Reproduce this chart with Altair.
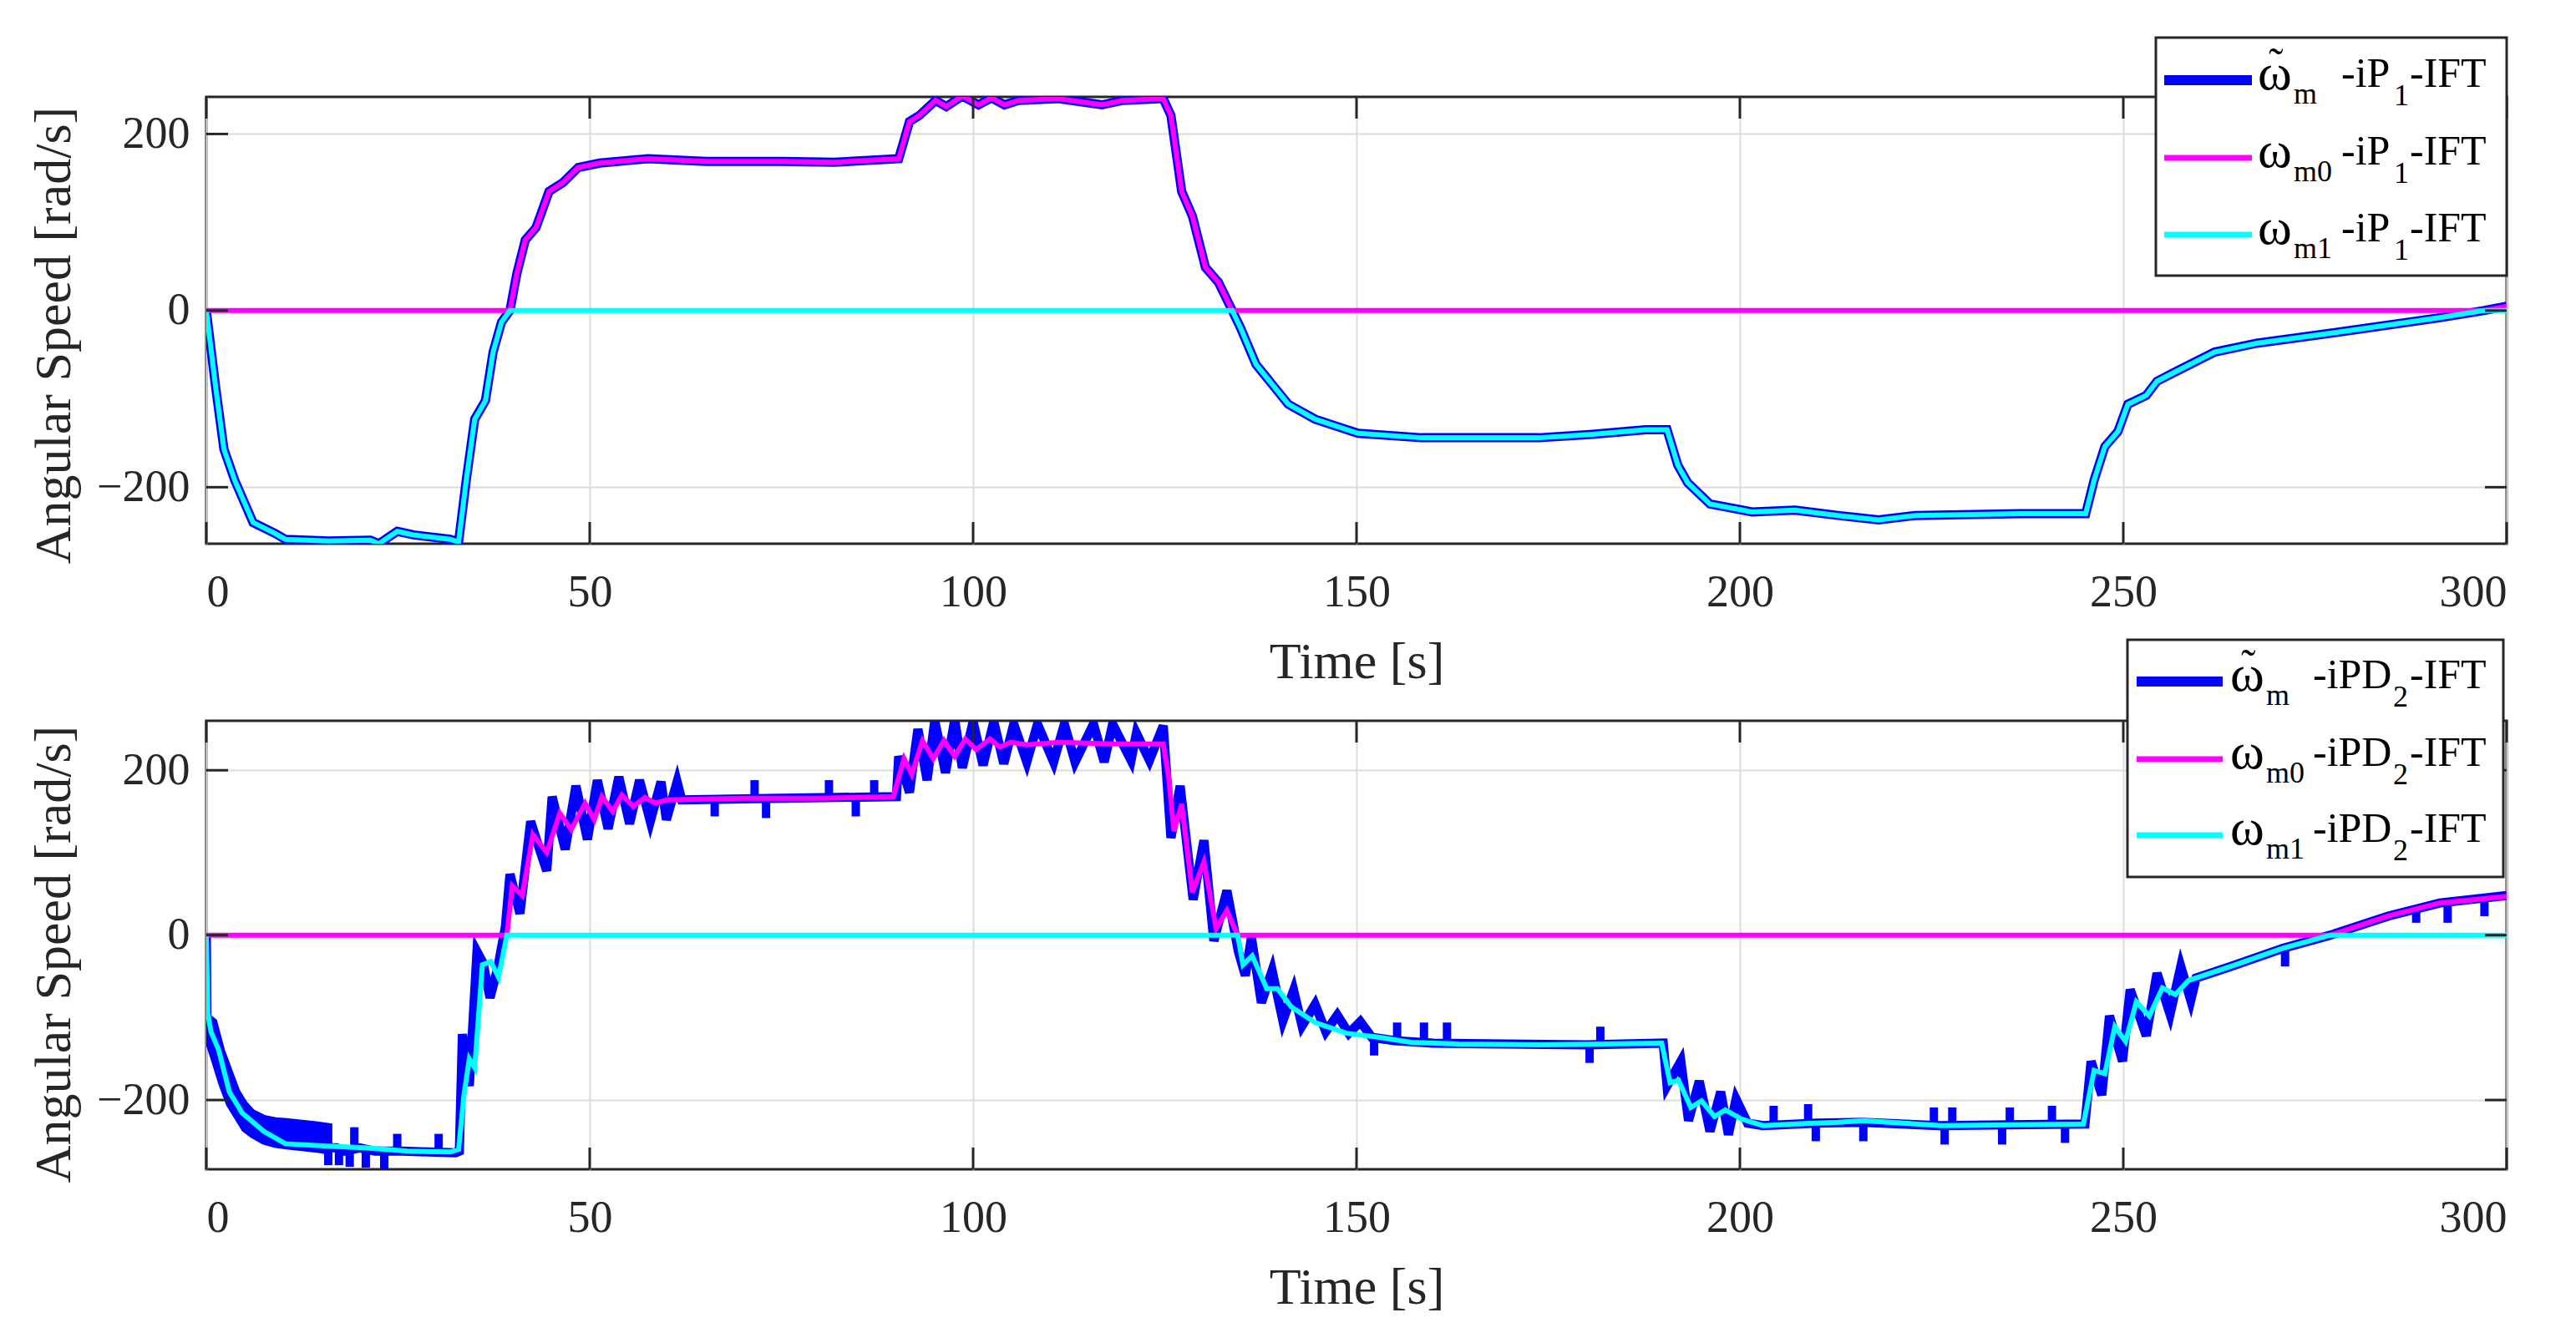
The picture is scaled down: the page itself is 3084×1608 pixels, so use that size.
import altair as alt
import numpy as np
import pandas as pd

# ---------------- data ----------------
# Top panel: omega~_m - iP1 - IFT  (omega_m0 = positive part, omega_m1 = negative part)
top_t = [0, 1.25, 2.3, 3.7, 6.1, 8.9, 10.3, 15.9, 21.4, 22.5, 24.9, 27, 31.8, 32.9, 33.9, 35, 36.4,
         37.4, 38.5, 39.6, 40.5, 41.6, 43, 44.7, 46.5, 48.5, 51.3, 57.6, 65.2, 75, 81.9, 90.3, 91.7,
         93, 95.1, 96.5, 98.6, 100.7, 102.4, 104.1, 105.9, 111.2, 116.8, 119.5, 124.8, 125.8, 127.2,
         128.6, 130.3, 132, 133.8, 134.9, 136.9, 141.1, 144.6, 150.2, 158.5, 173.8, 180.8, 187.7,
         190.5, 191.9, 193.2, 196.1, 201.6, 207.2, 212.8, 218.1, 222.9, 236.6, 245.1, 246.2, 247.6,
         249.3, 250.6, 253, 254.4, 257.1, 261.9, 267.4, 277.6, 291.3, 297, 300]
top_v = [0, -89, -157, -192, -240, -252, -259, -261, -260, -264, -250, -254, -259, -262, -192, -123,
         -102, -47, -13, 0, 42, 80, 94, 135, 145, 162, 167, 172, 169, 169, 168, 172, 214, 221, 238,
         231, 243, 233, 241, 233, 238, 240, 233, 238, 240, 221, 135, 107, 49, 32, 0, -20, -61, -106,
         -123, -139, -144, -144, -140, -135, -135, -175, -195, -219, -228, -226, -232, -237, -232,
         -230, -230, -192, -154, -137, -106, -96, -80, -68, -47, -37, -25, -8, 0, 5]

# Bottom panel: omega_m0 / omega_m1 source signal (iPD2 - IFT)
bot_t = [0, 0.2, 0.6, 1.6, 3.0, 4.7, 7.5, 10.3, 15.9, 20.7, 26.3, 31.8, 32.9, 33.6, 34.3, 35.0, 36.0,
         37.1, 38.1, 39.2, 39.9, 41.2, 42.6, 44.4, 46.1, 47.6, 49.4, 50.6, 51.6, 53.0, 54.2, 55.7,
         57.2, 58.6, 60, 70, 80, 89.6, 91.0, 92.0, 93.4, 94.8, 96.2, 97.6, 99.0, 100.4, 102.2, 103.5,
         104.9, 107.0, 111.2, 118.2, 124.8, 125.5, 126.2, 127.2, 128.6, 130.1, 131.7, 133.1, 134.5,
         135.2, 136.4, 138.3, 139.7, 141.5, 144.6, 148.7, 153.0, 157.1, 163.3, 173.8, 189.8, 190.9,
         192.0, 193.6, 195.0, 196.7, 198.1, 200.2, 203.0, 207.2, 212.8, 216.1, 226.3, 244.8, 246.2,
         247.6, 248.9, 250.3, 251.7, 253.4, 255.1, 256.8, 258.5, 264.0, 270.8, 277.0, 284.5, 291.3,
         300.0]
bot_v = [0, -95, -117, -139, -190, -216, -238, -253, -256, -258, -262, -263, -260, -194, -150, -161,
         -36, -32, -51, 0, 60, 48, 122, 100, 148, 128, 160, 140, 168, 150, 170, 156, 167, 160, 164,
         166, 166, 168, 214, 195, 236, 214, 236, 217, 238, 225, 238, 228, 234, 231, 234, 232, 232,
         192, 126, 159, 52, 89, 8, 30, 0, -36, -25, -65, -65, -87, -106, -119, -124, -130, -132, -133,
         -131, -179, -176, -209, -201, -220, -212, -223, -231, -229, -227, -225, -231, -229, -164,
         -168, -111, -129, -81, -98, -64, -72, -55, -38, -16, 0, 23, 39, 47]

# Bottom panel: omega~_m (measured, noisy) - iPD2 - IFT: main trace
botm_t = [0, 0.1, 0.6, 1.5, 3.0, 4.6, 6.4, 8.3, 10.4, 12.5, 14.6, 16.0, 17.0, 18.0, 20.0, 22.0,
          25.6, 29.0, 32.5, 33.0, 33.4, 34.3, 35.3, 36.1, 37.0, 38.0, 39.0, 39.6, 40.9, 42.3, 43.6,
          44.4, 45.1, 46.8, 48.2, 49.7, 51.0, 52.4, 53.8, 55.2, 56.5, 57.9, 59.3, 60.0, 61.4, 62.0,
          75.0, 90.0, 90.3, 91.7, 92.8, 94.0, 95.0, 96.4, 97.6, 98.6, 100.0, 101.3, 102.7, 104.0,
          105.3, 107.0, 108.4, 110.5, 111.9, 113.3, 115.7, 117.1, 118.2, 120.6, 121.3, 123.0, 124.8,
          125.8, 127.0, 128.7, 130.1, 131.4, 133.1, 134.6, 135.5, 136.3, 137.6, 139.0, 140.4, 141.8,
          142.9, 144.6, 146.0, 147.5, 149.0, 150.5, 152.0, 155.0, 160.0, 180.0, 190.0, 190.5, 192.3,
          193.3, 194.7, 196.1, 197.5, 198.5, 199.5, 201.0, 203.0, 210.0, 216.0, 226.0, 235.0, 245.0,
          245.8, 247.2, 248.2, 249.9, 250.9, 253.0, 254.4, 256.1, 257.5, 258.8, 259.5, 264.0, 270.8,
          277.0, 284.5, 291.3, 300.0]
botm_v = [0, -128, -115, -140, -185, -210, -232, -242, -248, -250, -252, -258, -258, -262, -258,
          -262, -262, -263, -264, -262, -120, -183, -20, -34, -76, -40, 10, 74, 26, 138, 100, 78,
          168, 104, 181, 116, 188, 129, 192, 135, 188, 138, 186, 140, 186, 164, 166, 168, 217, 173,
          250, 188, 260, 197, 261, 203, 259, 206, 259, 208, 256, 210, 256, 210, 256, 210, 256, 210,
          256, 212, 245, 212, 254, 118, 181, 43, 115, -7, 54, -20, -49, -3, -82, -43, -104, -67,
          -110, -84, -117, -97, -119, -105, -124, -128, -131, -133, -131, -183, -153, -225, -177,
          -238, -190, -242, -199, -228, -231, -228, -227, -231, -230, -229, -153, -194, -98, -153,
          -66, -122, -46, -96, -38, -79, -52, -38, -16, 0, 23, 39, 48]

# Bottom panel: omega~_m dense noise band over the first seconds (time, upper, lower)
band_t = [0.3, 1.0, 2.0, 3.0, 4.0, 5.0, 6.0, 7.5, 9.0, 10.5, 12.5, 14.5, 16.0]
band_hi = [-100, -105, -140, -165, -190, -205, -215, -222, -225, -226, -228, -230, -232]
band_lo = [-130, -150, -180, -205, -220, -235, -242, -250, -254, -256, -258, -260, -262]

# Bottom panel: omega~_m short rectangular spikes (time, trace level, spike level)
spike_t = [15.9, 17.3, 18.7, 19.3, 20.8, 23.2, 24.9, 30.3, 66.3, 71.5, 73.0, 81.2, 84.7, 87.1,
           152.3, 155.3, 158.8, 161.8, 180.4, 181.8, 204.4, 208.9, 209.9, 216.1, 225.3, 226.7,
           227.7, 234.2, 235.2, 240.7, 242.4, 271.1, 288.2, 292.3, 297.1]
spike_from = [-262, -262, -258, -258, -259, -262, -262, -263, 165, 166, 166, 166, 166, 167,
              -124, -128, -131, -132, -133, -132, -230, -228, -228, -227, -230, -231,
              -231, -230, -230, -229, -229, -16, 30, 40, 45]
spike_to = [-279, -279, -281, -233, -282, -285, -241, -241, 144, 188, 142, 188, 144, 188,
            -146, -106, -106, -106, -155, -111, -207, -205, -250, -250, -209, -254,
            -209, -254, -209, -207, -252, -38, 15, 15, 23]

x_ticks = [0, 50, 100, 150, 200, 250, 300]
y_ticks = [-200, 0, 200]

legend_subs = ["m", "m0", "m1"]
legend_top_rest = ["-iP", "1", "-IFT"]
legend_bot_rest = ["-iPD", "2", "-IFT"]

# ---------------- styling ----------------
FONT = "Liberation Serif"
DARK = "#262626"
BLUE, MAG, CYAN = "#0000ff", "#ff00ff", "#00ffff"
W = 2754
H_TOP, H_BOT = 535, 537
TICK = 26


def panel(t, v, m_t, m_v, ydom, height, title_y, leg, spikes=None, band=None):
    xs = alt.Scale(domain=[0, 300], nice=False, zero=False)
    ys = alt.Scale(domain=ydom, nice=False, zero=False)
    xaxis = alt.Axis(values=x_ticks, format="d", title="Time [s]", titleY=111,
                     titleBaseline="top", labelPadding=31)
    yaxis = alt.Axis(values=y_ticks, title="Angular Speed [rad/s]", titleX=-151,
                     titleY=title_y, labelPadding=20)

    def X(f):
        return alt.X(f, scale=xs, axis=xaxis)

    def Y(f):
        return alt.Y(f, scale=ys, axis=yaxis)

    sig = pd.DataFrame({"t": t, "v": v})
    sig["m0"] = np.maximum(sig["v"], 0)
    sig["m1"] = np.minimum(sig["v"], 0)
    sig["i"] = np.arange(len(sig))
    meas = pd.DataFrame({"t": m_t, "v": m_v, "i": np.arange(len(m_t))})

    layers = []
    if band is not None:
        bd = pd.DataFrame({"t": band[0], "hi": band[1], "lo": band[2]})
        layers.append(alt.Chart(bd).mark_area(color=BLUE, clip=True, stroke=BLUE,
                                              strokeWidth=8).encode(
            x=X("t:Q"), y=Y("hi:Q"), y2="lo:Q"))
    layers.append(alt.Chart(meas).mark_line(color=BLUE, strokeWidth=11, clip=True).encode(
        x=X("t:Q"), y=Y("v:Q"), order="i:Q"))
    if spikes is not None:
        sp = pd.DataFrame({"t": spikes[0], "a": spikes[1], "b": spikes[2]})
        layers.append(alt.Chart(sp).mark_rule(color=BLUE, strokeWidth=10, strokeCap="butt",
                                              clip=True).encode(
            x=X("t:Q"), y=Y("a:Q"), y2="b:Q"))
    layers.append(alt.Chart(sig).mark_line(color=MAG, strokeWidth=6, clip=True).encode(
        x=X("t:Q"), y=Y("m0:Q"), order="i:Q"))
    layers.append(alt.Chart(sig).mark_line(color=CYAN, strokeWidth=6, clip=True).encode(
        x=X("t:Q"), y=Y("m1:Q"), order="i:Q"))

    xt = pd.DataFrame({"t": x_ticks})
    yt = pd.DataFrame({"v": y_ticks})
    layers += [
        alt.Chart(xt).mark_rule(color=DARK, strokeWidth=3).encode(
            x=X("t:Q"), y=alt.value(0), y2=alt.value(TICK)),
        alt.Chart(xt).mark_rule(color=DARK, strokeWidth=3).encode(
            x=X("t:Q"), y=alt.value(height - TICK), y2=alt.value(height)),
        alt.Chart(yt).mark_rule(color=DARK, strokeWidth=3).encode(
            y=Y("v:Q"), x=alt.value(0), x2=alt.value(TICK)),
        alt.Chart(yt).mark_rule(color=DARK, strokeWidth=3).encode(
            y=Y("v:Q"), x=alt.value(W - TICK), x2=alt.value(W)),
    ]

    one = pd.DataFrame({"k": [0]})
    bx0, bx1, by0, by1 = leg["box"]
    layers.append(alt.Chart(one).mark_rect(fill="white", stroke=DARK, strokeWidth=3).encode(
        x=alt.value(bx0), x2=alt.value(bx1), y=alt.value(by0), y2=alt.value(by1)))
    sx0, sx1 = leg["sample"]
    for r, (cy, col, sw) in enumerate(zip(leg["rows"], [BLUE, MAG, CYAN], [12, 7, 7])):
        layers.append(alt.Chart(one).mark_rule(color=col, strokeWidth=sw).encode(
            x=alt.value(sx0), x2=alt.value(sx1), y=alt.value(cy)))
        pieces = [("ω", leg["x_omega"], 11, 62),
                  (legend_subs[r], leg["x_sub"], 28, 36),
                  (leg["rest"][0], leg["x_rest"][0], 8, 50),
                  (leg["rest"][1], leg["x_rest"][1], 30, 36),
                  (leg["rest"][2], leg["x_rest"][2], 8, 50)]
        for txt, px, dy, fs in pieces:
            layers.append(alt.Chart(one).mark_text(text=txt, align="left", baseline="alphabetic",
                                                   font=FONT, fontSize=fs, color="black").encode(
                x=alt.value(px), y=alt.value(cy + dy)))
        if r == 0:
            # tilde accent over the omega of the first entry
            layers.append(alt.Chart(one).mark_text(text="˜", align="center",
                                                   baseline="alphabetic", font=FONT,
                                                   fontSize=52, color="black").encode(
                x=alt.value(leg["x_tilde"]), y=alt.value(cy - 2)))

    return alt.layer(*layers).properties(width=W, height=height)


leg_top = dict(box=(2334, 2754, -71, 214), rows=[-20, 73, 165], sample=(2344, 2449),
               x_omega=2456, x_sub=2499, x_rest=[2556, 2619, 2638], x_tilde=2478,
               rest=legend_top_rest)
leg_bot = dict(box=(2300, 2750, -97, 187), rows=[-47, 46, 137], sample=(2311, 2414),
               x_omega=2423, x_sub=2466, x_rest=[2522, 2618, 2638], x_tilde=2445,
               rest=legend_bot_rest)

top = panel(top_t, top_v, top_t, top_v, [-264, 242], H_TOP, 285, leg_top)
bot = panel(bot_t, bot_v, botm_t, botm_v, [-284, 260], H_BOT, 279, leg_bot,
            spikes=(spike_t, spike_from, spike_to), band=(band_t, band_hi, band_lo))

chart = alt.vconcat(top, bot, spacing=212, bounds="flush").properties(
    padding={"left": 23, "top": 34, "right": 5, "bottom": 5},
    background="white",
).configure_view(stroke=DARK, strokeWidth=3).configure_axis(
    grid=True, gridColor="#dcdcdc", gridWidth=2, domain=False, ticks=False, tickSize=0,
    labelFont=FONT, labelFontSize=54, labelColor=DARK, titleFont=FONT, titleFontSize=62,
    titleFontWeight="normal", titleColor=DARK
)

chart.save("out.html", embed_options={"renderer": "svg", "actions": False})
